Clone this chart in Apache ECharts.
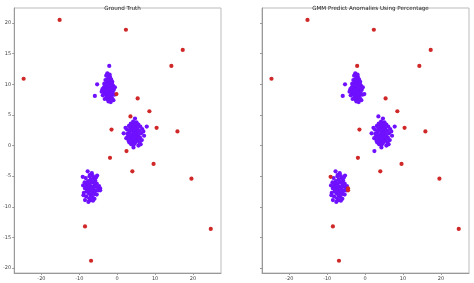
<!DOCTYPE html>
<html>
<head>
<meta charset="utf-8">
<script src="https://cdn.jsdelivr.net/npm/echarts@6/dist/echarts.min.js"></script>
<style>html,body{margin:0;padding:0;background:#fff}#c{width:474px;height:283px}</style>
</head>
<body>
<div id="c"></div>
<script>
// ---- data ----
const titles = ["Ground Truth", "GMM Predict Anomalies Using Percentage"];
const xTicks = [-20, -10, 0, 10, 20];
const yTicks = [-20, -15, -10, -5, 0, 5, 10, 15, 20];

// cluster points (normal in both panels)
const cluster1 = [[-2.6,11.8],[-2.9,11.4],[-1.9,11.2],[-2.4,11.0],[-3.1,10.7],[-1.6,10.8],[-2.2,10.5],[-2.8,10.3],[-1.3,10.4],[-3.4,10.1],[-2.0,10.1],[-2.5,9.9],[-1.7,9.8],[-3.0,9.7],[-1.1,9.8],[-2.3,9.6],[-3.6,9.4],[-2.8,9.3],[-1.9,9.4],[-1.4,9.2],[-2.4,9.1],[-3.2,9.0],[-0.9,9.1],[-2.0,8.9],[-2.7,8.7],[-1.6,8.7],[-3.5,8.6],[-2.2,8.5],[-1.2,8.4],[-3.0,8.3],[-2.5,8.2],[-1.8,8.1],[-3.8,8.2],[-0.7,8.3],[-2.1,7.9],[-2.9,7.8],[-1.4,7.8],[-2.5,7.5],[-1.9,7.4],[-3.3,7.6],[-1.0,7.4],[-2.3,7.2],[-5.3,10.0],[-5.9,8.1],[-1.6,9.6],[-2.6,10.7],[-3.3,9.9],[-2.1,9.2],[-1.2,8.8],[-2.8,8.9],[-2.4,8.0],[-1.7,7.1],[-0.6,9.5],[-3.9,9.2],[-4.1,8.8],[-2.0,11.6],[-1.4,10.1],[-2.9,10.0],[-2.2,9.8],[-1.8,8.5]];
const cluster2 = [[4.7,4.4],[4.2,3.9],[5.1,3.8],[3.6,3.6],[4.6,3.5],[5.6,3.4],[3.1,3.2],[4.0,3.2],[4.9,3.1],[6.1,3.1],[7.8,3.1],[3.5,2.9],[4.4,2.8],[5.3,2.8],[6.6,2.7],[2.6,2.6],[3.9,2.5],[4.8,2.4],[5.8,2.4],[3.2,2.2],[4.3,2.1],[5.2,2.1],[6.3,2.0],[1.7,2.0],[2.7,1.9],[3.7,1.8],[4.6,1.7],[5.5,1.7],[7.1,1.6],[3.1,1.5],[4.1,1.4],[5.0,1.3],[6.0,1.3],[2.4,1.2],[3.6,1.1],[4.5,1.0],[5.4,0.9],[6.5,0.9],[3.0,0.8],[4.0,0.6],[4.9,0.6],[5.9,0.5],[3.2,0.5],[4.3,0.2],[5.6,0.0],[4.3,-0.3],[3.7,0.2],[6.9,2.3],[2.2,2.9],[4.7,2.9],[5.0,2.0],[3.9,1.2],[4.4,3.4],[5.7,1.1],[3.4,2.4],[4.1,2.6],[2.8,1.4],[6.2,0.2],[5.3,3.4],[4.6,0.3]];
const cluster3 = [[-7.8,-4.2],[-6.7,-4.5],[-5.3,-4.9],[-7.3,-5.0],[-8.3,-5.3],[-6.2,-5.3],[-7.0,-5.5],[-5.8,-5.7],[-7.7,-5.8],[-8.6,-6.0],[-6.5,-6.0],[-5.4,-6.2],[-7.3,-6.3],[-8.1,-6.5],[-6.0,-6.5],[-6.9,-6.7],[-5.2,-6.8],[-7.6,-6.9],[-8.5,-7.0],[-6.3,-7.1],[-7.1,-7.3],[-5.7,-7.4],[-8.0,-7.5],[-6.6,-7.6],[-7.5,-7.8],[-8.8,-7.7],[-6.0,-7.9],[-7.0,-8.1],[-5.4,-8.0],[-8.2,-8.3],[-6.5,-8.4],[-7.4,-8.6],[-8.9,-8.1],[-6.0,-8.7],[-7.0,-8.9],[-8.5,-8.9],[-7.6,-9.2],[-6.4,-9.0],[-5.0,-7.3],[-7.9,-6.1],[-6.8,-5.9],[-6.1,-6.8],[-7.3,-7.0],[-8.4,-6.7],[-5.6,-5.2],[-7.8,-7.3],[-6.8,-8.0],[-5.9,-6.2],[-9.0,-6.5],[-7.2,-4.8],[-4.8,-6.6],[-6.4,-5.0]];

// anomalies in both panels
const anomaliesBoth = [[-15.2,20.5],[2.3,18.9],[17.3,15.6],[14.3,13.0],[-24.7,10.9],[5.4,7.7],[8.5,5.6],[-1.5,2.6],[10.4,2.9],[15.9,2.3],[-1.9,-2.0],[9.6,-3.0],[4.0,-4.2],[19.6,-5.4],[-8.5,-13.2],[24.7,-13.6],[-6.9,-18.8]];
// true anomalies that GMM labelled normal
const gtOnlyAnomalies = [[-0.2,8.4],[3.5,4.75],[2.45,-0.9]];
// normal points that GMM labelled anomalous
const gmmOnlyAnomalies = [[-2.1,13.0],[-9.1,-5.1],[-4.5,-7.0],[-4.5,-7.3]];

// ---- chart ----
const BLUE = '#6f10ff', RED = '#d02828';
const normalAll = cluster1.concat(cluster2, cluster3);
const gtNormal = normalAll.concat(gmmOnlyAnomalies);
const gtAnom = anomaliesBoth.concat(gtOnlyAnomalies);
const gmmNormal = normalAll.concat(gtOnlyAnomalies);
const gmmAnom = anomaliesBoth.concat(gmmOnlyAnomalies);

const grids = [
  {left: 14, top: 8, width: 207, height: 265},
  {left: 262, top: 8, width: 207, height: 265}
];
const font = 'DejaVu Sans';
function xAxis(i) {
  return {
    type: 'value', gridIndex: i, min: -27.2, max: 27.4,
    splitLine: {show: false},
    axisLine: {show: true, onZero: false, lineStyle: {color: '#999', width: 1}},
    axisTick: {show: true, length: 2, lineStyle: {color: '#999'}, customValues: xTicks},
    axisLabel: {fontSize: 5, color: '#444', margin: 3, fontFamily: font, customValues: xTicks}
  };
}
function yAxis(i, labels) {
  return {
    type: 'value', gridIndex: i, min: -20.8, max: 22.45,
    splitLine: {show: false},
    axisLine: {show: true, onZero: false, lineStyle: {color: '#999', width: 1}},
    axisTick: {show: true, length: 2, lineStyle: {color: '#999'}, customValues: yTicks},
    axisLabel: {show: labels, fontSize: 5, color: '#444', margin: 3, fontFamily: font, customValues: yTicks}
  };
}
function sc(i, data, color) {
  return {
    type: 'scatter', xAxisIndex: i, yAxisIndex: i, data: data,
    symbolSize: 4.2, itemStyle: {color: color, opacity: 1}, silent: true, animation: false
  };
}
const chart = echarts.init(document.getElementById('c'), null, {renderer: 'canvas'});
chart.setOption({
  animation: false,
  backgroundColor: '#fff',
  title: [
    {text: titles[0], left: 117.5, top: 1, textAlign: 'center', textStyle: {fontSize: 5.6, fontWeight: 'normal', color: '#222', fontFamily: font}},
    {text: titles[1], left: 365.5, top: 1, textAlign: 'center', textStyle: {fontSize: 5.6, fontWeight: 'normal', color: '#222', fontFamily: font}}
  ],
  grid: grids.map(g => Object.assign({show: true, borderColor: '#bbb', borderWidth: 1, containLabel: false}, g)),
  xAxis: [xAxis(0), xAxis(1)],
  yAxis: [yAxis(0, true), yAxis(1, false)],
  series: [sc(0, gtNormal, BLUE), sc(0, gtAnom, RED), sc(1, gmmNormal, BLUE), sc(1, gmmAnom, RED)]
});
</script>
</body>
</html>
